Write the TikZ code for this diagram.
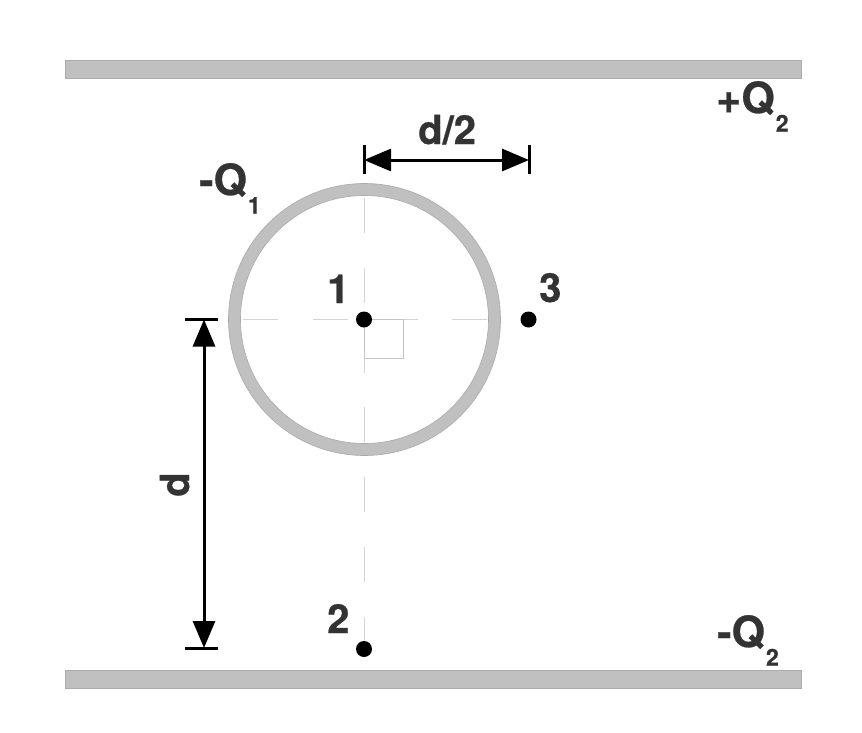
\documentclass[tikz,border=0pt]{standalone}
\usepackage{fontspec}
\setmainfont{TeX Gyre Heros}[BoldFeatures={FakeBold=0.6}]
\usetikzlibrary{arrows.meta}
\definecolor{plategray}{HTML}{C0C0C0}
\definecolor{edgegray}{HTML}{ABABAB}
\definecolor{labelgray}{HTML}{333333}
\definecolor{centergray}{HTML}{D4D4D4}
\definecolor{squaregray}{HTML}{C4C4C4}
\newcommand{\subtwo}[1]{\hspace{1pt}\raisebox{-18.5pt}{\fontsize{23}{23}\selectfont #1}}
\tikzset{
  x=1pt,y=-1pt,
  plate/.style={fill=plategray,draw=edgegray,line width=0.6pt},
  ring/.style={draw=plategray,line width=12pt},
  ringedge/.style={draw=edgegray,line width=0.6pt},
  centerline/.style={draw=centergray,line width=1pt,dash pattern=on 35pt off 34.8pt},
  sq/.style={draw=squaregray,line width=0.9pt},
  dim/.style={draw=black,line width=3pt,{Triangle[length=27pt,width=22pt]}-{Triangle[length=27pt,width=22pt]},shorten >=0pt,shorten <=0pt},
  tick/.style={draw=black,line width=3pt},
  pt/.style={circle,fill=black,inner sep=0pt,minimum size=16pt},
  lab/.style={font=\fontsize{40}{40}\selectfont\bfseries,text=labelgray,inner sep=0pt,anchor=base west},
  qlab/.style={lab,font=\fontsize{43}{43}\selectfont\bfseries},
}
\begin{document}
\begin{tikzpicture}
\useasboundingbox (0,0) rectangle (862,732);
\fill[white] (0,0) rectangle (862,732);
% plates
\draw[plate] (65,60.5) rectangle (801.5,78);
\draw[plate] (65,670.5) rectangle (801.5,688);
% centre lines
\coordinate (vtop) at (364,198);
\coordinate (vbot) at (364,649);
\coordinate (hl) at (243,319);
\coordinate (hr) at (489,319);
\draw[centerline] (vtop) -- (vbot);
\draw[centerline] (hl) -- (hr);
% right-angle mark
\draw[sq] (364,319) rectangle (403,358);
% ring
\coordinate (c) at (364.5,319.5);
\draw[ring] (c) circle[radius=130];
\draw[ringedge] (c) circle[radius=136];
\draw[ringedge] (c) circle[radius=124];
% points
\node[pt] (p1) at (364,319.5) {};
\node[pt] (p2) at (364,649) {};
\node[pt] (p3) at (528.5,319.5) {};
% d/2 dimension
\coordinate (a1) at (364,160);
\coordinate (a2) at (529,160);
\draw[tick] (364,145) -- (a1) -- (364,174);
\draw[tick] (529,145) -- (a2) -- (529,174);
\draw[dim] (a1) -- (a2);
% d dimension
\coordinate (b1) at (204,319.5);
\coordinate (b2) at (204,648);
\draw[tick] (185,319.5) -- (b1) -- (218,319.5);
\draw[tick] (185,648) -- (b2) -- (218,648);
\draw[dim] (b1) -- (b2);
% labels
\node[qlab] (lq2p) at (716,113) {+Q\subtwo{2}};
\node[qlab] (lq2m) at (717,647) {-Q\subtwo{2}};
\node[qlab] (lq1) at (199,195) {-Q\subtwo{1}};
\node[lab] (ld2) at (418,144) {d/2};
\node[lab] (l1) at (327,303) {1};
\node[lab] (l2) at (327,633) {2};
\node[lab] (l3) at (539,302) {3};
\node[lab,rotate=90] (ld) at (189,497) {d};
\end{tikzpicture}
\end{document}
